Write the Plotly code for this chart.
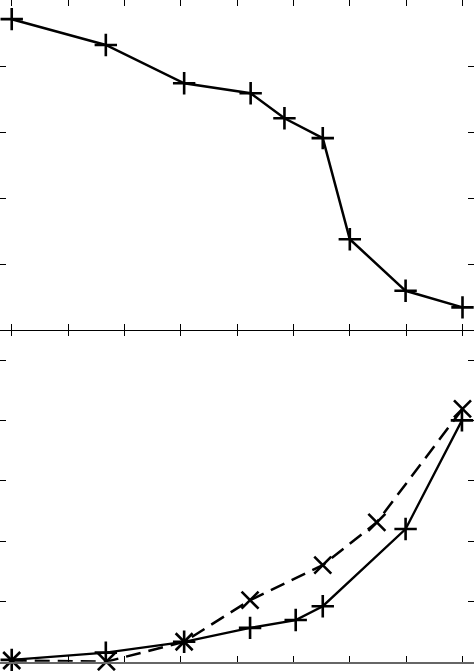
import plotly.graph_objects as go

# ---- data (in x-tick units / y-tick units) ----
top_x = [0, 1.67, 3.06, 4.24, 4.84, 5.52, 6.0, 6.99, 8.0]
top_y = [4.71, 4.32, 3.74, 3.59, 3.21, 2.91, 1.38, 0.60, 0.35]

bot_solid_x = [0, 1.67, 3.06, 4.23, 5.04, 5.52, 6.99, 7.99]
bot_solid_y = [0.03, 0.15, 0.33, 0.56, 0.69, 0.92, 2.20, 4.0]

bot_dash_x = [0, 1.68, 3.06, 4.23, 5.52, 6.48, 8.0]
bot_dash_y = [0.02, 0.0, 0.33, 1.02, 1.60, 2.31, 4.19]

x_ticks = [0, 1, 2, 3, 4, 5, 6, 7, 8]
top_yticks = [1, 2, 3, 4]
bot_yticks = [1, 2, 3, 4, 5]

XR = [-0.208, 8.204]
TOP_YR = [0, 5.0]
BOT_YR = [0, 5.49]

fig = go.Figure()

marker_plus = dict(symbol="cross-thin-open", size=16, color="black",
                   line=dict(color="black", width=2.6))
marker_x = dict(symbol="x-thin-open", size=17, color="black",
                line=dict(color="black", width=2.6))

fig.add_trace(go.Scatter(x=top_x, y=top_y, mode="lines+markers",
                         line=dict(color="black", width=2.5),
                         marker=marker_plus, xaxis="x", yaxis="y",
                         showlegend=False, cliponaxis=False))
fig.add_trace(go.Scatter(x=bot_solid_x, y=bot_solid_y, mode="lines+markers",
                         line=dict(color="black", width=2.3),
                         marker=marker_plus, xaxis="x2", yaxis="y2",
                         showlegend=False, cliponaxis=False))
fig.add_trace(go.Scatter(x=bot_dash_x, y=bot_dash_y, mode="lines+markers",
                         line=dict(color="black", width=2.5, dash="15px,8px"),
                         marker=marker_x, xaxis="x2", yaxis="y2",
                         showlegend=False, cliponaxis=False))
# empty traces to create mirror-tick overlay subplots
fig.add_trace(go.Scatter(x=[], y=[], xaxis="x3", yaxis="y3", showlegend=False, hoverinfo="skip"))
fig.add_trace(go.Scatter(x=[], y=[], xaxis="x4", yaxis="y4", showlegend=False, hoverinfo="skip"))

tick_common = dict(ticks="inside", ticklen=6, tickwidth=1, tickcolor="black",
                   showticklabels=False, showgrid=False, zeroline=False)

fig.update_layout(
    width=474, height=671,
    margin=dict(l=0, r=0, t=0, b=0),
    paper_bgcolor="white", plot_bgcolor="white",
    xaxis=dict(domain=[0, 1], range=XR, anchor="y", tickvals=x_ticks,
               showline=True, linecolor="black", linewidth=1.2, **tick_common),
    yaxis=dict(domain=[0.5075, 1], range=TOP_YR, anchor="x", tickvals=top_yticks,
               showline=False, **tick_common),
    xaxis3=dict(overlaying="x", side="top", anchor="y3", range=XR, tickvals=x_ticks,
                showline=False, **tick_common),
    yaxis3=dict(overlaying="y", side="right", anchor="x3", range=TOP_YR,
                tickvals=top_yticks, showline=False, **tick_common),
    xaxis2=dict(domain=[0, 1], range=XR, anchor="y2", tickvals=x_ticks,
                showline=True, linecolor="#666666", linewidth=1.5, **tick_common),
    yaxis2=dict(domain=[0.01386, 0.5075], range=BOT_YR, anchor="x2",
                tickvals=bot_yticks, showline=False, **tick_common),
    xaxis4=dict(overlaying="x2", side="top", anchor="y4", range=XR, tickvals=x_ticks,
                showline=False, **tick_common),
    yaxis4=dict(overlaying="y2", side="right", anchor="x4", range=BOT_YR,
                tickvals=bot_yticks, showline=False, **tick_common),
)

fig.write_html("out.html",
               config={"displayModeBar": False},
               post_script="document.body.style.margin='0';document.body.style.overflow='hidden';")
